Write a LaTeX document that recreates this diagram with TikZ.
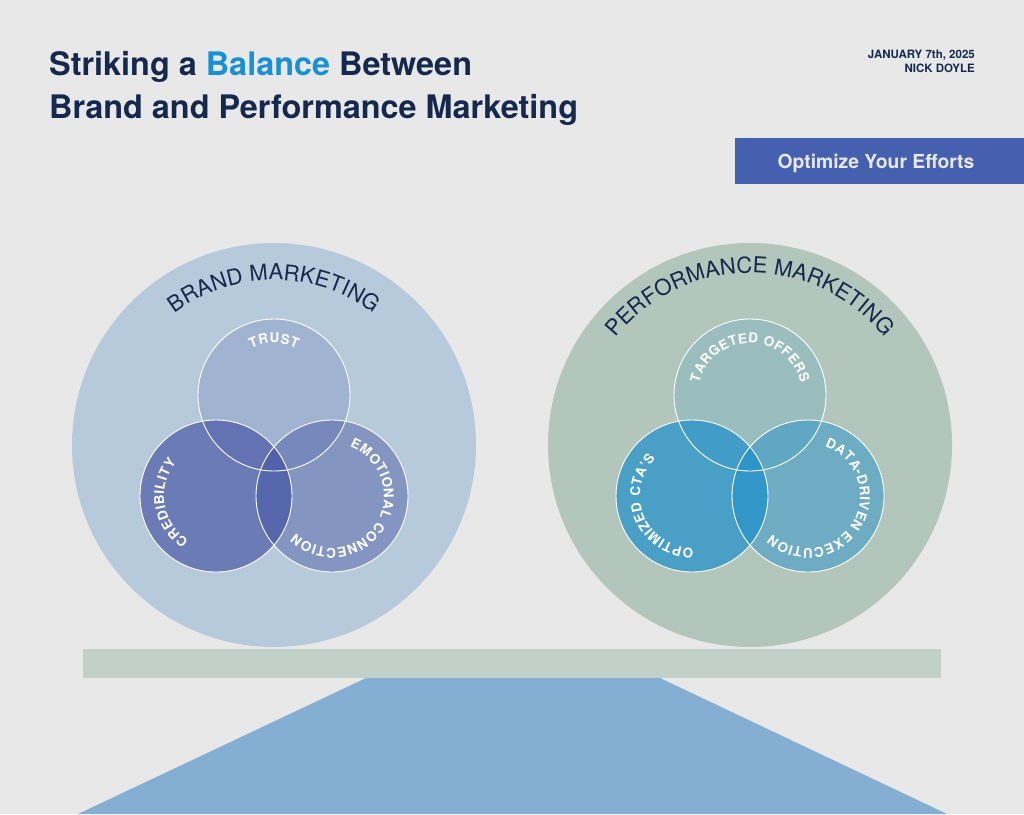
\documentclass[tikz,border=0pt]{standalone}
\usepackage{fontspec}
\setmainfont{TeX Gyre Heros}
\usetikzlibrary{decorations.text}

\definecolor{pagebg}{HTML}{E8E8E8}
\definecolor{navy}{HTML}{15294D}
\definecolor{accent}{HTML}{1890D2}
\definecolor{btnblue}{HTML}{4560AF}
\definecolor{brandbg}{HTML}{B7CADB}
\definecolor{perfbg}{HTML}{B2C6BB}
\definecolor{brandink}{HTML}{3C4BA0}
\definecolor{perfink}{HTML}{148CCD}
\definecolor{beam}{HTML}{C1D0C8}
\definecolor{stand}{HTML}{84AFD3}

\newcommand{\titlefont}{\fontsize{32.4}{40}\selectfont\bfseries}
\newcommand{\datefont}{\fontsize{11.5}{12}\selectfont\bfseries}
\newcommand{\ctafont}{\fontsize{19.3}{20}\selectfont\bfseries}
\newcommand{\headfont}{\fontsize{22}{24}\selectfont}
\newcommand{\ringfont}{\fontsize{13.5}{14}\selectfont\bfseries}

\tikzset{
  label/.style={inner sep=0pt, text=navy},
  headarc/.style={decorate, decoration={text along path, text align=center,
    text={|\headfont\color{navy}|#1}}},
  ringarc/.style={decorate, decoration={text effects along path, text={#1}, text align=center,
    text effects/.cd, text along path,
    characters={text=white, font=\ringfont, inner xsep=0.25pt},
    character widths={font=\ringfont, inner xsep=0.25pt}}},
  rim/.style={draw=white, line width=0.9pt},
}

\begin{document}
\begin{tikzpicture}[x=1pt, y=1pt]
\useasboundingbox (0,0) rectangle (1024,-814);
\fill[pagebg] (0,0) rectangle (1024,-814);

% Header
\node[label, anchor=base west, font=\titlefont] (title1) at (49,-75) {Striking a \textcolor{accent}{Balance} Between};
\node[label, anchor=base west, font=\titlefont] (title2) at (49,-118) {Brand and Performance Marketing};
\node[label, anchor=base east, font=\datefont] (date) at (975,-58) {JANUARY 7th, 2025};
\node[label, anchor=base east, font=\datefont] (author) at (975,-72) {NICK DOYLE};

% Button
\node[fill=btnblue, anchor=north west, minimum width=289pt, minimum height=46pt, inner sep=0pt] (button) at (735,-138) {};
\node[inner sep=0pt, anchor=base, font=\ctafont, text=pagebg] (cta) at (876,-168) {Optimize Your Efforts};

% Stand and beam
\fill[stand] (366,-678) -- (660,-678) -- (947,-814) -- (78,-814) -- cycle;

% Big circles
\coordinate (brand) at (274,-445);
\coordinate (perf) at (750,-445);
\fill[brandbg] (brand) circle[radius=202];
\fill[perfbg] (perf) circle[radius=202];

\fill[beam] (83,-649) rectangle (941,-678);

% Venn petals
\foreach \c/\x in {b/274, p/750} {
  \coordinate (\c top) at (\x,-395);
  \coordinate (\c left) at (\x-58,-496);
  \coordinate (\c right) at (\x+58,-496);
}
\fill[brandink, fill opacity=0.18] (btop) circle[radius=76];
\fill[brandink, fill opacity=0.62] (bleft) circle[radius=76];
\fill[brandink, fill opacity=0.41] (bright) circle[radius=76];
\fill[perfink, fill opacity=0.15] (ptop) circle[radius=76];
\fill[perfink, fill opacity=0.66] (pleft) circle[radius=76];
\fill[perfink, fill opacity=0.43] (pright) circle[radius=76];
\foreach \p in {btop, bleft, bright, ptop, pleft, pright}
  \draw[rim] (\p) circle[radius=76];

% Circle headings
\path[headarc={BRAND MARKETING}] ([shift={(170:165)}]brand) arc[start angle=170, end angle=10, radius=165];
\path[headarc={PERFORMANCE MARKETING}] ([shift={(170:172)}]perf) arc[start angle=170, end angle=10, radius=172];

% Petal labels
\path[ringarc={TRUST}] ([shift={(210:52)}]btop) arc[start angle=210, end angle=-30, radius=52];
\path[ringarc={CREDIBILITY}] ([shift={(309:52)}]bleft) arc[start angle=309, end angle=69, radius=52];
\path[ringarc={EMOTIONAL CONNECTION}] ([shift={(88:52)}]bright) arc[start angle=88, end angle=-152, radius=52];
\path[ringarc={TARGETED OFFERS}] ([shift={(210:52)}]ptop) arc[start angle=210, end angle=-30, radius=52];
\path[ringarc={OPTIMIZED CTA'S}] ([shift={(323:52)}]pleft) arc[start angle=323, end angle=83, radius=52];
\path[ringarc={DATA-DRIVEN EXECUTION}] ([shift={(89:52)}]pright) arc[start angle=89, end angle=-151, radius=52];
\end{tikzpicture}
\end{document}
